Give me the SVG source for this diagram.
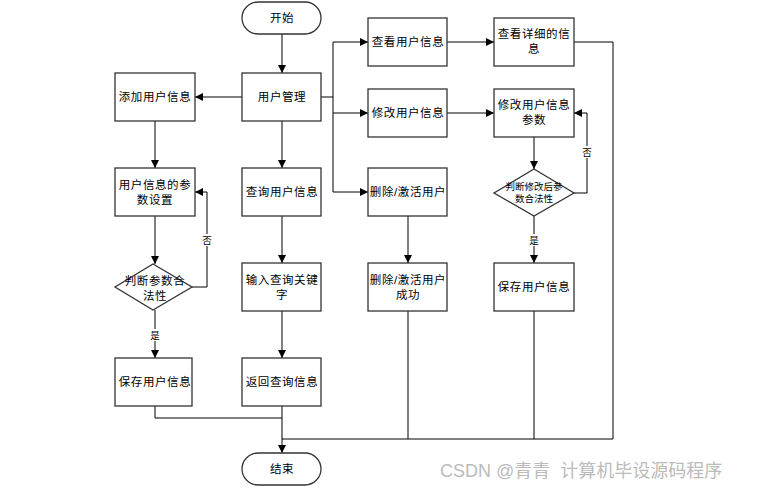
<svg xmlns="http://www.w3.org/2000/svg" width="760" height="491" viewBox="0 0 760 491">
<style>
.b{fill:#fff;stroke:#333;stroke-width:1.3}
.t{font-family:"Liberation Sans","Noto Sans CJK SC",sans-serif;font-size:11.5px;fill:#000;text-anchor:middle;letter-spacing:0.6px}
.s{font-family:"Liberation Sans","Noto Sans CJK SC",sans-serif;font-size:9.5px;fill:#000;text-anchor:middle}
.c{fill:none;stroke:#000;stroke-width:1}
</style>
<defs><marker id="a" viewBox="0 0 10 10" refX="10" refY="5" markerWidth="8" markerHeight="8" markerUnits="userSpaceOnUse" orient="auto"><path d="M0,0L10,5L0,10z" fill="#000"/></marker></defs>
<rect width="760" height="491" fill="#fff"/>
<g id="connectors">
<path class="c" d="M282,34V73" marker-end="url(#a)"/>
<path class="c" d="M242,97H195" marker-end="url(#a)"/>
<path class="c" d="M155,121V168" marker-end="url(#a)"/>
<path class="c" d="M155,216V264" marker-end="url(#a)"/>
<path class="c" d="M192,287H207V192H195" marker-end="url(#a)"/>
<path class="c" d="M155,310V358" marker-end="url(#a)"/>
<path class="c" d="M282,121V168" marker-end="url(#a)"/>
<path class="c" d="M282,216V263" marker-end="url(#a)"/>
<path class="c" d="M282,311V358" marker-end="url(#a)"/>
<path class="c" d="M282,406V453" marker-end="url(#a)"/>
<path class="c" d="M155,406V418H282"/>
<path class="c" d="M321,97H333V42H368" marker-end="url(#a)"/>
<path class="c" d="M333,97V113H368" marker-end="url(#a)"/>
<path class="c" d="M333,113V192H368" marker-end="url(#a)"/>
<path class="c" d="M447,42H494" marker-end="url(#a)"/>
<path class="c" d="M447,113H494" marker-end="url(#a)"/>
<path class="c" d="M408,216V263" marker-end="url(#a)"/>
<path class="c" d="M534,137V169" marker-end="url(#a)"/>
<path class="c" d="M574,193H587V113H574" marker-end="url(#a)"/>
<path class="c" d="M534,216V263" marker-end="url(#a)"/>
<path class="c" d="M574,42H613V439H282"/>
<path class="c" d="M408,311V439M534,311V439"/>
</g>
<g id="n-start"><rect class="b" x="242" y="2" width="79" height="32" rx="16"/><text class="t" x="282" y="22">开始</text></g>
<g id="n-mgmt"><rect class="b" x="242" y="73" width="79" height="48"/><text class="t" x="282" y="101">用户管理</text></g>
<g id="n-add"><rect class="b" x="115" y="73" width="80" height="48"/><text class="t" x="155" y="101">添加用户信息</text></g>
<g id="n-param"><rect class="b" x="115" y="168" width="80" height="48"/><text class="t" x="155" y="189">用户信息的参</text><text class="t" x="155" y="204">数设置</text></g>
<g id="n-judge1"><polygon class="b" points="153,264 192,287 153,310 115,287"/><text class="t" x="155" y="285">判断参数合</text><text class="t" x="155" y="300">法性</text></g>
<g id="n-save1"><rect class="b" x="115" y="358" width="77" height="48"/><text class="t" x="155" y="386">保存用户信息</text></g>
<g id="n-query"><rect class="b" x="242" y="168" width="79" height="48"/><text class="t" x="282" y="196">查询用户信息</text></g>
<g id="n-key"><rect class="b" x="242" y="263" width="79" height="48"/><text class="t" x="282" y="284">输入查询关键</text><text class="t" x="282" y="299">字</text></g>
<g id="n-ret"><rect class="b" x="242" y="358" width="79" height="48"/><text class="t" x="282" y="386">返回查询信息</text></g>
<g id="n-end"><rect class="b" x="242" y="453" width="79" height="32" rx="16"/><text class="t" x="282" y="473">结束</text></g>
<g id="n-view"><rect class="b" x="368" y="18" width="79" height="48"/><text class="t" x="408" y="46">查看用户信息</text></g>
<g id="n-edit"><rect class="b" x="368" y="89" width="79" height="48"/><text class="t" x="408" y="117">修改用户信息</text></g>
<g id="n-del"><rect class="b" x="368" y="168" width="79" height="48"/><text class="t" x="408" y="196">删除/激活用户</text></g>
<g id="n-delok"><rect class="b" x="368" y="263" width="79" height="48"/><text class="t" x="408" y="284">删除/激活用户</text><text class="t" x="408" y="299">成功</text></g>
<g id="n-detail"><rect class="b" x="494" y="18" width="80" height="48"/><text class="t" x="534" y="38">查看详细的信</text><text class="t" x="534" y="53">息</text></g>
<g id="n-editp"><rect class="b" x="494" y="89" width="80" height="48"/><text class="t" x="534" y="109">修改用户信息</text><text class="t" x="534" y="124">参数</text></g>
<g id="n-judge2"><polygon class="b" points="534,169 574,193 534,216 494,193"/><text class="s" x="534" y="190">判断修改后参</text><text class="s" x="534" y="202">数合法性</text></g>
<g id="n-save2"><rect class="b" x="494" y="263" width="80" height="48"/><text class="t" x="534" y="291">保存用户信息</text></g>
<g id="labels">
<rect x="201" y="234" width="12" height="12" fill="#fff"/><text class="s" x="207" y="244">否</text>
<rect x="581" y="146" width="12" height="12" fill="#fff"/><text class="s" x="587" y="156">否</text>
<rect x="149" y="329" width="12" height="12" fill="#fff"/><text class="s" x="155" y="339">是</text>
<rect x="528" y="234" width="12" height="12" fill="#fff"/><text class="s" x="534" y="244">是</text>
</g>
<text x="440" y="477" xml:space="preserve" font-family="'Liberation Sans','Noto Sans CJK SC',sans-serif" font-size="18" fill="#bbb">CSDN @青青  计算机毕设源码程序</text>
</svg>
